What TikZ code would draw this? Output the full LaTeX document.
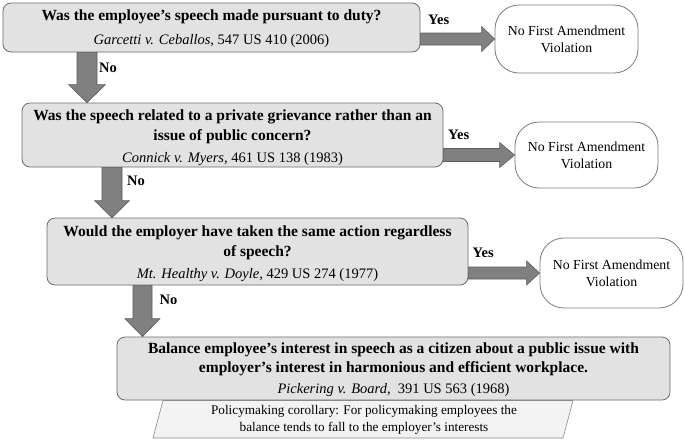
\documentclass[tikz,border=0pt]{standalone}
\usepackage{fontspec}
\setmainfont{Liberation Serif}
\newfontfamily\tms{Liberation Serif}
\usetikzlibrary{calc}
\definecolor{boxfill}{HTML}{E2E2E2}
\definecolor{boxedge}{HTML}{6B6B6B}
\definecolor{arrfill}{HTML}{808080}
\definecolor{arredge}{HTML}{5C5C5C}
\definecolor{termedge}{HTML}{7A7A7A}
\definecolor{corrfill}{HTML}{F3F3F3}
\definecolor{corredge}{HTML}{8A8A8A}
\newcommand\hblock[5]{%
  \draw[blockarrow] ($(#1)+(0,-#3)$) -- ($(#2)+(-#5,-#3)$) -- ($(#2)+(-#5,-#4)$) -- (#2)
   -- ($(#2)+(-#5,#4)$) -- ($(#2)+(-#5,#3)$) -- ($(#1)+(0,#3)$) -- cycle;}
\newcommand\vblock[5]{%
  \draw[blockarrow] ($(#1)+(-#3,0)$) -- ($(#2)+(-#3,-#5)$) -- ($(#2)+(-#4,-#5)$) -- (#2)
   -- ($(#2)+(#4,-#5)$) -- ($(#2)+(#3,-#5)$) -- ($(#1)+(#3,0)$) -- cycle;}
\newcommand\caseline[1]{{\fontsize{14.5}{16}\selectfont\mdseries #1}}
\begin{document}
\begin{tikzpicture}[x=1pt,y=-1pt,
  qbox/.style={draw=boxedge, fill=boxfill, rounded corners=8pt, line width=0.8pt,
    align=center, inner sep=0pt, font=\tms\fontsize{15.5}{20}\selectfont\bfseries},
  term/.style={draw=termedge, fill=white, rounded corners=24pt, line width=0.8pt,
    align=center, inner sep=0pt, minimum width=143pt,
    font=\tms\fontsize{13.8}{17}\selectfont},
  blockarrow/.style={fill=arrfill, draw=arredge, line width=0.6pt, line join=miter},
  lab/.style={font=\tms\fontsize{14.5}{15}\selectfont\bfseries, inner sep=0pt, anchor=west},
  corr/.style={draw=corredge, fill=corrfill, line width=0.6pt}
]
\useasboundingbox (0,0) rectangle (685,440);

% question boxes
\node[qbox, minimum width=417pt, minimum height=49pt] (b1) at (211.5,27.5)
  {\rule{0pt}{13pt}Was the employee’s speech made pursuant to duty?\\[3.5pt]
   \caseline{\itshape Garcetti v. Ceballos,\upshape{} 547 US 410 (2006)}};
\node[qbox, minimum width=421pt, minimum height=64pt] (b2) at (232.5,135)
  {\rule{0pt}{16pt}Was the speech related to a private grievance rather than an\\
   issue of public concern?\\[2pt]
   \caseline{\itshape Connick v. Myers,\upshape{} 461 US 138 (1983)}};
\node[qbox, minimum width=421pt, minimum height=67pt] (b3) at (257.5,251.5)
  {\rule{0pt}{16pt}Would the employer have taken the same action regardless\\
   of speech?\\[2pt]
   \caseline{\itshape Mt. Healthy v. Doyle,\upshape{} 429 US 274 (1977)}};
\node[qbox, minimum width=553pt, minimum height=63pt] (b4) at (393.5,368.5)
  {\rule{0pt}{14pt}Balance employee’s interest in speech as a citizen about a public issue with\\[-1pt]
   employer’s interest in harmonious and efficient workplace.\\[1pt]
   \caseline{\itshape Pickering v. Board,\upshape{}\ \ 391 US 563 (1968)}};

% terminal boxes
\node[term, minimum height=68pt] (t1) at (566.5,39) {No First Amendment\\Violation};
\node[term, minimum height=66pt] (t2) at (586.5,155) {No First Amendment\\Violation};
\node[term, minimum height=70pt] (t3) at (611.5,273) {No First Amendment\\Violation};

% corollary
\draw[corr] (163,400.5) -- (573,400.5) -- (563,438) -- (153,438) -- cycle;
\node[align=center, inner sep=0pt, font=\tms\fontsize{13.2}{17}\selectfont] (corrtext) at (364,419.5)
  {Policymaking corollary: For policymaking employees the\\
   balance tends to fall to the employer’s interests};

% horizontal Yes arrows
\coordinate (h1s) at (b1.east |- t1.west);
\coordinate (h2s) at (b2.east |- t2.west);
\coordinate (h3s) at (b3.east |- t3.west);
\hblock{h1s}{t1.west}{6}{12.5}{13}
\hblock{h2s}{t2.west}{6.5}{12.5}{15}
\hblock{h3s}{t3.west}{6}{12}{13}

% vertical No arrows
\coordinate (v1) at (87,0);
\coordinate (v2) at (112,0);
\coordinate (v3) at (142.5,0);
\coordinate (v1s) at (b1.south -| v1);
\coordinate (v1e) at (b2.north -| v1);
\coordinate (v2s) at (b2.south -| v2);
\coordinate (v2e) at (b3.north -| v2);
\coordinate (v3s) at (b3.south -| v3);
\coordinate (v3e) at (b4.north -| v3);
\vblock{v1s}{v1e}{10}{18.5}{18}
\vblock{v2s}{v2e}{10}{17.5}{17}
\vblock{v3s}{v3e}{9.5}{17.5}{18}

% labels
\node[lab] (y1) at (428,20) {Yes};
\node[lab] (y2) at (448,135) {Yes};
\node[lab] (y3) at (472.5,253) {Yes};
\node[lab] (n1) at (99,68) {No};
\node[lab] (n2) at (127,181) {No};
\node[lab] (n3) at (159.5,300) {No};
\end{tikzpicture}
\end{document}
